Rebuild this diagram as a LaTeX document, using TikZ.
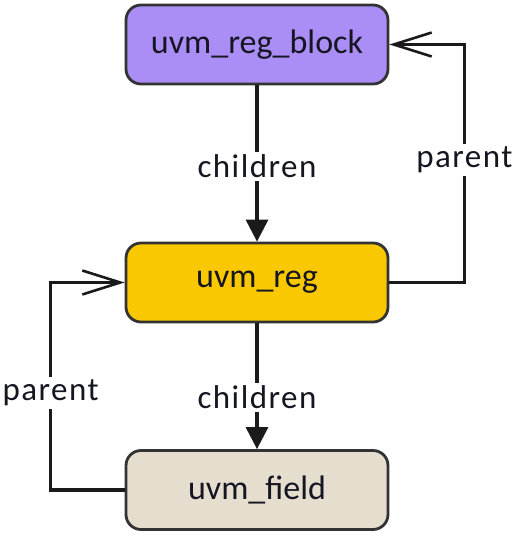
\documentclass[tikz,border=0pt]{standalone}
\usepackage{fontspec}
\setmainfont{Carlito}
\usetikzlibrary{arrows.meta}
\definecolor{purp}{RGB}{170,142,245}
\definecolor{yel}{RGB}{249,200,0}
\definecolor{beige}{RGB}{229,222,207}
\definecolor{boxline}{RGB}{51,51,51}
\definecolor{lnk}{RGB}{26,26,26}
\definecolor{txt}{RGB}{22,22,34}
\begin{document}
\begin{tikzpicture}[x=1pt,y=-1pt,
  box/.style={draw=boxline, line width=2.8pt, rounded corners=15pt,
    minimum width=262pt, minimum height=79pt, inner sep=0pt,
    font=\fontsize{34}{40}\selectfont, text=txt},
  lbl/.style={fill=white, inner sep=3pt, font=\fontsize{33}{38}\selectfont\addfontfeature{LetterSpace=4.5}, text=txt},
  link/.style={line width=3.2pt, draw=lnk},
  child/.style={link, -{Triangle[length=22pt,width=22pt]}},
  par/.style={link, -{Straight Barb[length=38pt,width=24pt,line width=2.6pt]}}
]
\useasboundingbox (0,0) rectangle (524,542);
\node[box, fill=purp] (blk) at (257,44.5) {uvm\_reg\_block};
\node[box, fill=yel] (reg) at (257,282.5) {uvm\_reg};
\node[box, fill=beige] (fld) at (257,490) {uvm\_field};
\draw[child] (blk) -- node[lbl, pos=0.52]{children} (reg);
\draw[child] (reg) -- node[lbl, pos=0.59]{children} (fld);
\draw[par] (reg.east) -- ++(75,0) |- node[lbl, pos=0.257]{parent} (blk.east);
\draw[par] (fld.west) -- ++(-74,0) |- node[lbl, pos=0.234]{parent} (reg.west);
\end{tikzpicture}
\end{document}
